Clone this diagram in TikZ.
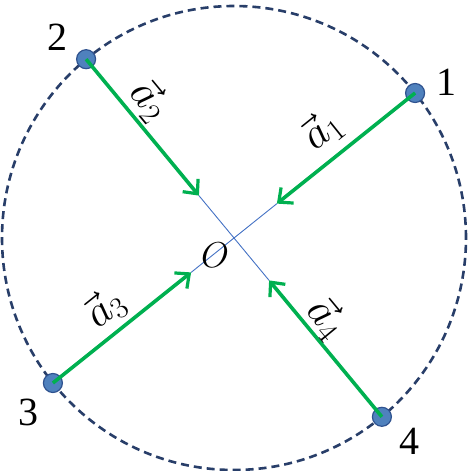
\RequirePackage{fix-cm}
\documentclass[tikz,border=0pt]{standalone}
\usepackage{fontspec}
\setmainfont{Liberation Serif}
\usetikzlibrary{arrows.meta}
\definecolor{vecgreen}{RGB}{0,176,80}
\definecolor{dotfill}{RGB}{79,129,189}
\definecolor{dotedge}{RGB}{47,82,143}
\definecolor{circnavy}{RGB}{40,62,105}
\definecolor{thinblue}{RGB}{68,114,196}
\tikzset{
  ptdot/.style={circle, fill=dotfill, draw=dotedge, line width=1.2pt, minimum size=19pt, inner sep=0pt},
  vecarrow/.style={draw=vecgreen, line width=3.6pt, -{Straight Barb[length=11pt,width=20pt,line width=3.2pt]}},
  thinline/.style={draw=thinblue, line width=0.9pt},
  dashcirc/.style={draw=circnavy, line width=2.6pt, dash pattern=on 8pt off 5pt},
  numlabel/.style={font=\fontsize{40}{48}\selectfont, inner sep=0pt},
  veclabel/.style={font=\fontsize{44}{52}\selectfont, inner sep=0pt},
  originlabel/.style={font=\fontsize{36}{42}\selectfont, inner sep=0pt}
}
\begin{document}
\begin{tikzpicture}[x=1pt,y=-1pt]
\useasboundingbox (0,0) rectangle (474,471);
\coordinate (O) at (234,238);
\draw[dashcirc] (O) circle[radius=232pt];
% points
\node[ptdot] (p1) at (415.1,93.0) {};
\node[ptdot] (p2) at (86.1,59.2) {};
\node[ptdot] (p3) at (52.9,383.0) {};
\node[ptdot] (p4) at (381.9,416.8) {};
% arrow tips
\coordinate (t1) at (276.9,203.6);
\coordinate (t2) at (198.9,195.6);
\coordinate (t3) at (191.1,272.4);
\coordinate (t4) at (269.1,280.4);
% thin lines
\draw[thinline] (t1) -- (t3);
\draw[thinline] (t2) -- (t4);
% vectors
\draw[vecarrow] (p1.center) -- (t1);
\draw[vecarrow] (p2.center) -- (t2);
\draw[vecarrow] (p3.center) -- (t3);
\draw[vecarrow] (p4.center) -- (t4);
% labels
\node[numlabel] (n1) at (446,82) {1};
\node[numlabel] (n2) at (57,37) {2};
\node[numlabel] (n3) at (28,412) {3};
\node[numlabel] (n4) at (409,441) {4};
\node[veclabel, rotate=38.7] (la1) at (322,130) {$\vec{a}_1$};
\node[veclabel, rotate=-50.4] (la2) at (150,100) {$\vec{a}_2$};
\node[veclabel, rotate=38.7] (la3) at (105,308) {$\vec{a}_3$};
\node[veclabel, rotate=-50.4] (la4) at (327,318) {$\vec{a}_4$};
\node[originlabel] (lo) at (215,255) {$O$};
\end{tikzpicture}
\end{document}
